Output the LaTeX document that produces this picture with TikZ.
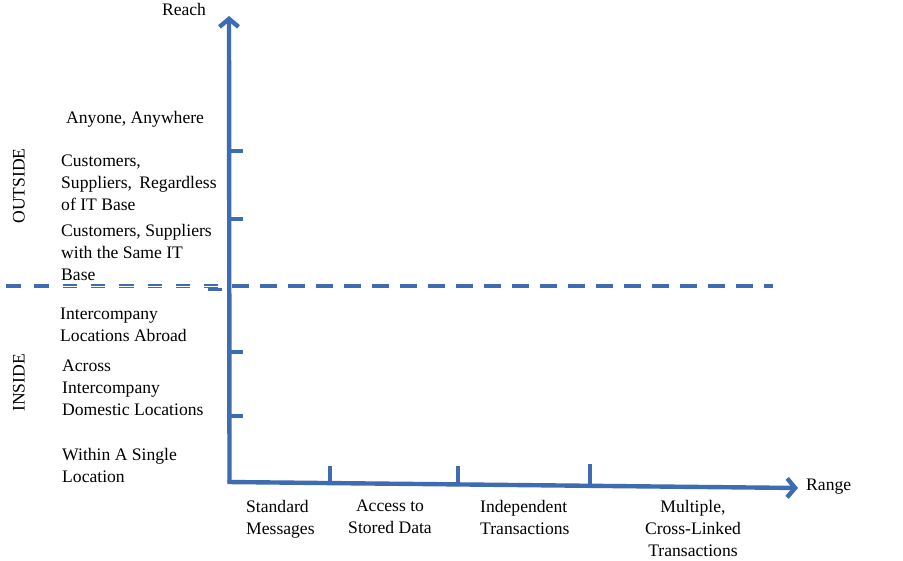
\documentclass[tikz,border=0pt]{standalone}
\usepackage{fontspec}
\setmainfont{Liberation Serif}
\usetikzlibrary{arrows.meta}
\definecolor{axblue}{RGB}{62,108,178}
\begin{document}
\begin{tikzpicture}[x=1pt,y=-1pt,
  axisline/.style={draw=axblue,line width=4.4pt},
  tickline/.style={draw=axblue,line width=3.4pt},
  divline/.style={draw=axblue,line width=4pt},
  lbl/.style={font=\fontsize{17.6}{22}\selectfont,inner sep=0pt,align=left},
  lblc/.style={font=\fontsize{17.6}{22}\selectfont,inner sep=0pt,align=center}]
\useasboundingbox[fill=white] (0,0) rectangle (903,561);
% axes
\coordinate (O) at (229.5,482);
\coordinate (ytop) at (229,16);
\coordinate (xend) at (798,488);
\draw[axisline,-{Straight Barb[length=8pt,width=19pt]}] (O) -- (ytop);
\draw[axisline,-{Straight Barb[length=8pt,width=19pt]}] (227.4,482) -- (xend);
% y ticks
\foreach \yy [count=\i] in {151,219,352,416}{
  \coordinate (ya\i) at (229,\yy);
  \coordinate (yb\i) at (243,\yy);
  \draw[tickline] (ya\i) -- (yb\i);
}
% x ticks
\coordinate (xa1) at (330,483); \coordinate (xb1) at (330,466);
\coordinate (xa2) at (458,484); \coordinate (xb2) at (458,466);
\coordinate (xa3) at (590,485); \coordinate (xb3) at (590,464);
\draw[tickline] (xa1) -- (xb1);
\draw[tickline] (xa2) -- (xb2);
\draw[tickline] (xa3) -- (xb3);
% dashed divider
\coordinate (dl0) at (6,286);
\coordinate (dl1) at (218,286);
\coordinate (dr0) at (232,286);
\coordinate (dr1) at (773,286);
\draw[divline,dash pattern=on 14.5pt off 13.8pt] (dl0) -- (dl1);
\coordinate (wl0) at (62,286);
\coordinate (wl1) at (219,286);
\draw[white,line width=0.9pt] (wl0) -- (wl1);
\coordinate (sd0) at (208,289.5);
\coordinate (sd1) at (222,289.5);
\draw[axblue,line width=3.2pt] (sd0) -- (sd1);
\draw[divline,dash pattern=on 17pt off 11pt] (dr0) -- (dr1);
% axis titles
\node[lbl,anchor=center] (reach) at (184,9) {Reach};
\node[lbl,anchor=west] (range) at (806,487) {Range};
% side labels
\node[lbl,rotate=90,anchor=center] (outside) at (19,186) {OUTSIDE};
\node[lbl,rotate=90,anchor=center] (inside) at (19,383) {INSIDE};
% reach levels
\node[lbl,anchor=west] (r6) at (66,119) {Anyone, Anywhere};
\node[lbl,anchor=west] (r5) at (61,183) {Customers,\\Suppliers,\, Regardless\\of IT Base};
\node[lbl,anchor=west] (r4) at (61,252) {Customers, Suppliers\\with the Same IT\\Base};
\node[lbl,anchor=west] (r3) at (60,324.5) {Intercompany\\Locations Abroad};
\node[lbl,anchor=west] (r2) at (62,387.5) {Across\\Intercompany\\Domestic Locations};
\node[lbl,anchor=west] (r1) at (62,465.5) {Within A Single\\Location};
% range levels
\node[lbl,anchor=north west] (c1) at (246,500) {Standard\\Messages};
\node[lblc,anchor=north] (c2) at (390,500) {Access to\\Stored Data};
\node[lbl,anchor=north west] (c3) at (480,500) {Independent\\Transactions};
\node[lblc,anchor=north] (c4) at (693,500) {Multiple,\\Cross-Linked\\Transactions};
\end{tikzpicture}
\end{document}
